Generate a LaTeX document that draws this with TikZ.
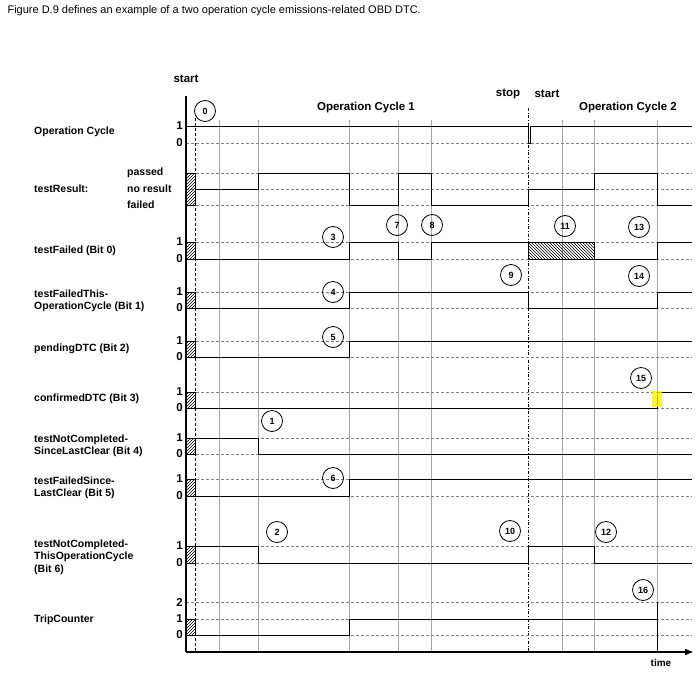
\documentclass[tikz,border=0pt]{standalone}
\usepackage{fontspec}
\setmainfont{Liberation Sans}
\usetikzlibrary{patterns,arrows.meta}
\begin{document}
\begin{tikzpicture}[x=1pt,y=-1pt,
  lbl/.style={font=\fontsize{10.5}{12.5}\selectfont\bfseries,anchor=west,align=left,inner sep=0},
  lvl/.style={font=\fontsize{11.5}{12}\selectfont\bfseries,anchor=east,inner sep=0},
  hd/.style={font=\fontsize{11.5}{13}\selectfont\bfseries},
  num/.style={circle,draw,thick,minimum size=21pt,inner sep=0,font=\fontsize{9}{10}\selectfont\bfseries},
  sig/.style={line width=1pt},
  ref/.style={gray,densely dashed,line width=0.5pt},
  grid/.style={gray!70,line width=0.5pt},
  hat/.style={draw,pattern=north east lines,line width=0.5pt}]
\useasboundingbox (0,0) rectangle (700,674);
\node[anchor=west,font=\fontsize{11}{13}\selectfont] (cap) at (4,11) {Figure D.9 defines an example of a two operation cycle emissions-related OBD DTC.};
% vertical grid
\foreach \x in {219,258,349,398,431,562,594,657} \draw[grid] (\x,120) -- (\x,652);
\draw[densely dashed,line width=0.6pt] (195,118) -- (195,652);
\draw[dash dot,line width=0.6pt] (528,108) -- (528,652);
% reference levels
\foreach \y in {126,143,173,189,205,242,259,292,308,341,357,392,408,438,454,479,496,546,563,602,619,635}
  \draw[ref] (186,\y) -- (692,\y);
% axes
\coordinate (o) at (186,652);
\coordinate (top) at (186,96);
\coordinate (xe) at (694,652);
\draw[line width=2pt] (top) -- (o);
\draw[line width=2pt,-{Latex[length=9pt,width=7pt]}] (o) -- (xe);
\node[font=\fontsize{10}{11}\selectfont\bfseries] (time) at (661,663) {time};
% headings
\node[hd] (st1) at (186,79) {start};
\node[hd] (oc1) at (366,108) {Operation Cycle 1};
\node[hd] (stop) at (508,94) {stop};
\node[hd] (st2) at (547,94) {start};
\node[hd] (oc2) at (628,108) {Operation Cycle 2};
% row labels
\node[lbl] (l1) at (34,132) {Operation Cycle};
\node[lbl] (l2) at (34,189) {testResult:};
\node[lbl] (p1) at (127,173) {passed};
\node[lbl] (p2) at (127,189) {no result};
\node[lbl] (p3) at (127,205) {failed};
\node[lbl] (l3) at (34,251) {testFailed (Bit 0)};
\node[lbl] (l4) at (34,301) {testFailedThis-\\OperationCycle (Bit 1)};
\node[lbl] (l5) at (34,349) {pendingDTC (Bit 2)};
\node[lbl] (l6) at (34,399) {confirmedDTC (Bit 3)};
\node[lbl] (l7) at (34,446) {testNotCompleted-\\SinceLastClear (Bit 4)};
\node[lbl] (l8) at (34,488) {testFailedSince-\\LastClear (Bit 5)};
\node[lbl] (l9) at (34,557) {testNotCompleted-\\ThisOperationCycle\\(Bit 6)};
\node[lbl] (l10) at (34,620) {TripCounter};
% level numbers
\foreach \y/\t in {126/1,143/0,242/1,259/0,292/1,308/0,341/1,357/0,392/1,408/0,438/1,454/0,479/1,496/0,546/1,563/0,602/2,619/1,635/0}
  \node[lvl] at (183,\y) {\t};
% hatched boxes
\foreach \a/\b in {173/205,242/259,292/308,341/357,392/408,438/454,479/496,546/563,619/635}
  \draw[hat] (186,\a) rectangle (195,\b);
\draw[hat,pattern=north west lines] (528,242) rectangle (594,259);
% signals
\draw[sig] (186,126) -- (528,126) -- (528,143) -- (530,143) -- (530,126) -- (692,126);
\draw[sig] (195,189) -- (258,189) -- (258,173) -- (349,173) -- (349,205) -- (398,205) -- (398,173) -- (431,173) -- (431,205) -- (528,205) -- (528,189) -- (594,189) -- (594,173) -- (657,173) -- (657,205) -- (692,205);
\draw[sig] (195,259) -- (349,259) -- (349,242) -- (398,242) -- (398,259) -- (431,259) -- (431,242) -- (528,242);
\draw[sig] (594,242) -- (594,259) -- (657,259) -- (657,242) -- (692,242);
\draw[sig] (195,308) -- (349,308) -- (349,292) -- (528,292) -- (528,308) -- (657,308) -- (657,292) -- (692,292);
\draw[sig] (195,357) -- (349,357) -- (349,341) -- (692,341);
\draw[sig] (195,408) -- (657,408) -- (657,392) -- (692,392);
\fill[yellow,opacity=0.8] (652,391) rectangle (662,407);
\draw[sig] (186,438) -- (258,438) -- (258,454) -- (692,454);
\draw[sig] (195,496) -- (349,496) -- (349,479) -- (692,479);
\draw[sig] (195,546) -- (258,546) -- (258,563) -- (528,563) -- (528,546) -- (594,546) -- (594,563) -- (692,563);
\draw[sig] (195,635) -- (349,635) -- (349,619) -- (657,619);
\draw[sig] (657,602) -- (657,652);
% circled numbers
\node[num] (n0) at (205,111) {0};
\node[num] (n1) at (272,421) {1};
\node[num] (n2) at (277,532) {2};
\node[num] (n3) at (333,237) {3};
\node[num] (n4) at (333,292) {4};
\node[num] (n5) at (333,337) {5};
\node[num] (n6) at (333,478) {6};
\node[num] (n7) at (397,225) {7};
\node[num] (n8) at (432,225) {8};
\node[num] (n9) at (511,275) {9};
\node[num] (n10) at (510,531) {10};
\node[num] (n11) at (565,226) {11};
\node[num] (n12) at (606,532) {12};
\node[num] (n13) at (639,227) {13};
\node[num] (n14) at (639,276) {14};
\node[num] (n15) at (641,378) {15};
\node[num] (n16) at (643,590) {16};
\end{tikzpicture}
\end{document}
